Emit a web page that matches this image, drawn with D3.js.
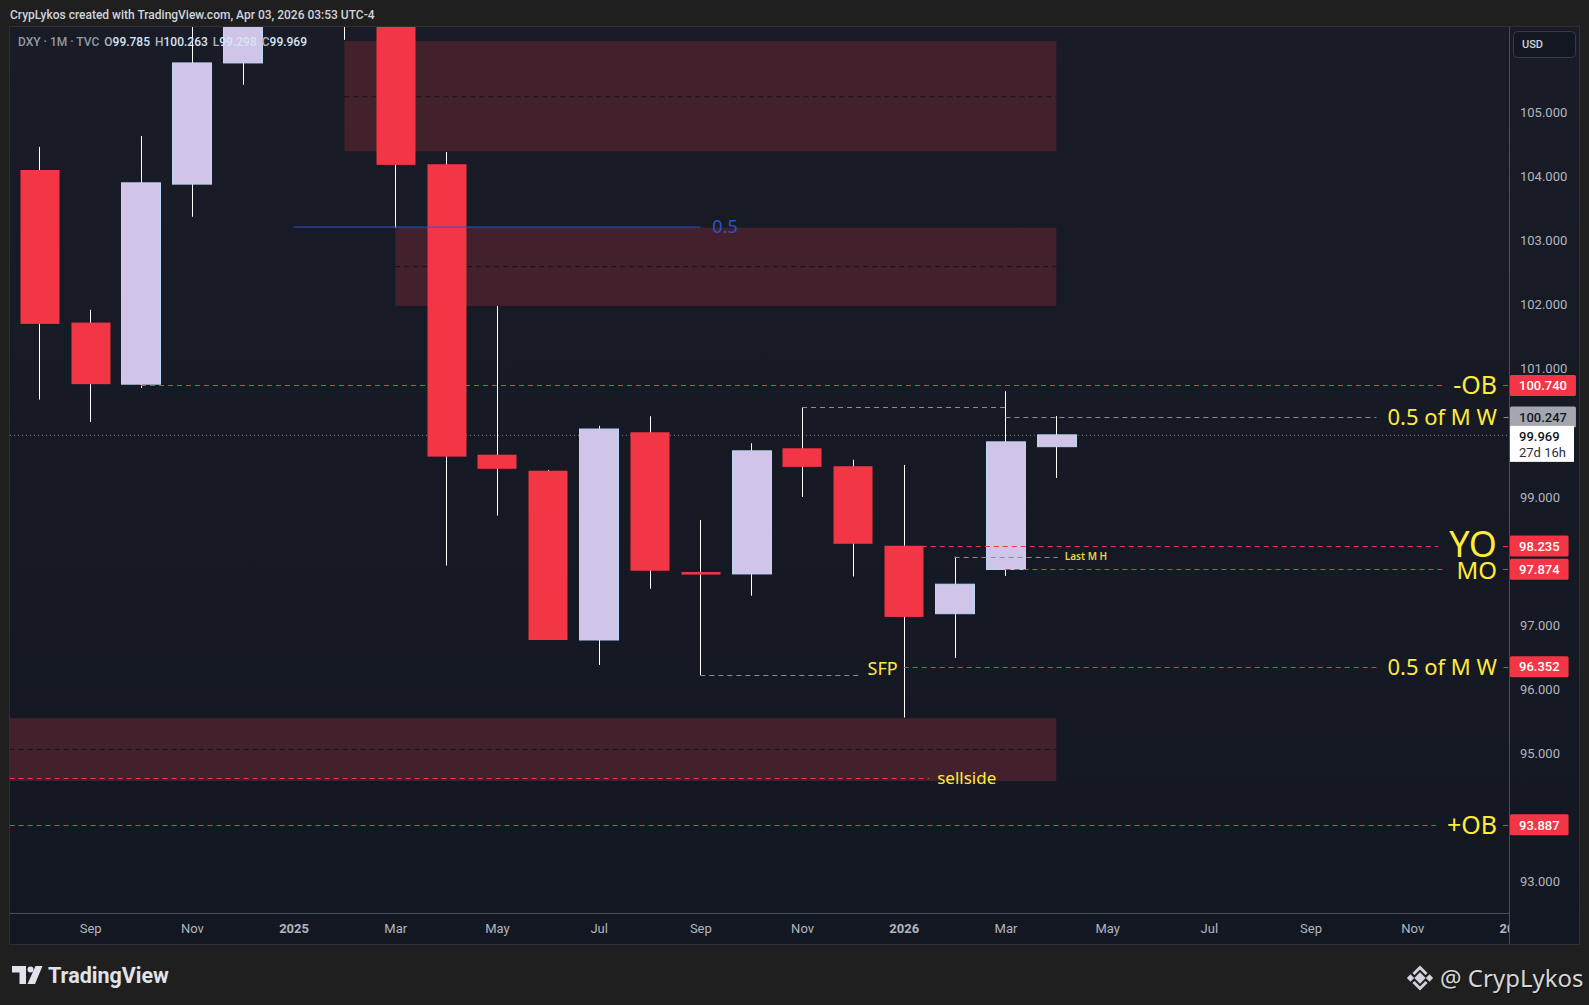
<!DOCTYPE html>
<html>
<head>
<meta charset="utf-8">
<script src="https://cdn.jsdelivr.net/npm/d3@7"></script>
<style>
  body { margin: 0; background: #1f1f1f; }
  svg { display: block; }
</style>
</head>
<body>
<div id="chart"></div>
<script>
// ── Data (DXY monthly) ──────────────────────────────────────
const months = ['2024-08','2024-09','2024-10','2024-11','2024-12','2025-01','2025-02',
  '2025-03','2025-04','2025-05','2025-06','2025-07','2025-08','2025-09','2025-10',
  '2025-11','2025-12','2026-01','2026-02','2026-03','2026-04'];
const openP  = [104.10,101.72,100.76,103.88,105.77,108.49,108.37,107.61,104.19,99.66,99.41,
  96.77,100.01,97.83,97.80,99.76,99.48,98.24,97.18,97.87,99.785];
const highP  = [104.46,101.92,104.63,107.07,108.54,110.18,109.88,107.70,104.38,101.98,99.42,
  100.11,100.26,98.64,99.84,100.40,99.58,99.50,98.07,100.65,100.263];
const lowP   = [100.52,100.17,100.70,103.37,105.43,107.48,106.13,103.20,97.93,98.71,96.77,
  96.38,97.57,96.22,97.46,99.00,97.76,95.56,96.49,97.77,99.298];
const closeP = [101.70,100.76,103.90,105.77,108.49,108.37,107.61,104.18,99.63,99.44,96.77,
  100.06,97.85,97.79,99.72,99.47,98.27,97.13,97.64,99.86,99.969];

// supply / demand zones (month index from..to, prices)
const zoneFrom   = [6, 7, -2];
const zoneTo     = [20, 20, 20];
const zoneTop    = [106.11, 103.20, 95.55];
const zoneBottom = [104.39, 101.98, 94.57];
const zoneMid    = [105.25, 102.60, 95.07];

// labelled horizontal levels running to the price scale
const levelPrice = [100.740, 100.247, 98.235, 97.874, 96.352, 93.887];
const levelFrom  = [2, 19, 17, 19, 17, -2];
const levelText  = ['-OB', '0.5 of M W', 'YO', 'MO', '0.5 of M W', '+OB'];
const levelGrey  = [false, true, false, false, false, false];

// short annotations: [fromIdx, toIdx, price, label]
const prevHigh = [15, 19, 100.40, ''];
const sfpLine  = [13, 16.13, 96.22, 'SFP'];
const lastMH   = [18, 20.03, 98.07, 'Last M H'];
const sellside = [-2, 17.5, 94.62, 'sellside'];
const fibHalf  = [5, 13, 103.21, '0.5'];

const lastPrice = 99.969;
const countdown = '27d 16h';

const yTicks = [93, 94, 95, 96, 97, 98, 99, 100, 101, 102, 103, 104, 105];
const timeIdx = [1, 3, 5, 7, 9, 11, 13, 15, 17, 19, 21, 23, 25, 27, 29];
const timeLabels = ['Sep','Nov','2025','Mar','May','Jul','Sep','Nov','2026','Mar','May','Jul','Sep','Nov','2027'];

// ── Layout ──────────────────────────────────────────────────
const W = 1589, H = 1005;
const plot = { left: 10, right: 1509, top: 27, bottom: 913 };
const RED = '#f23645', LAV = '#d1c4e9', YEL = '#ffeb3b';
const UI = 'Roboto, "Noto Sans", sans-serif';
const ANN = '"Noto Sans", sans-serif';

const x = d3.scaleLinear().domain([0, 20]).range([39.3, 1056.3]);
const y = d3.scaleLinear().domain([93, 105]).range([881.7, 112.3]);
const bodyW = (x(1) - x(0)) * 0.77;

const svg = d3.select('#chart').append('svg')
  .attr('width', W).attr('height', H);

const defs = svg.append('defs');
const grad = defs.append('linearGradient').attr('id', 'bg')
  .attr('x1', 0).attr('y1', 0).attr('x2', 0).attr('y2', 1);
grad.append('stop').attr('offset', 0).attr('stop-color', '#191c27');
grad.append('stop').attr('offset', 1).attr('stop-color', '#131722');
defs.append('clipPath').attr('id', 'plotClip').append('rect')
  .attr('x', plot.left).attr('y', plot.top)
  .attr('width', plot.right - plot.left).attr('height', plot.bottom - plot.top);
defs.append('clipPath').attr('id', 'timeClip').append('rect')
  .attr('x', plot.left).attr('y', plot.bottom)
  .attr('width', plot.right - plot.left).attr('height', 32);

svg.append('rect').attr('width', W).attr('height', H).attr('fill', '#1f1f1f');

// ── Header ──────────────────────────────────────────────────
svg.append('text')
  .attr('x', 10).attr('y', 15).attr('dy', '0.35em')
  .attr('fill', '#d1d4dc').attr('font-size', '12px').attr('font-weight', 500)
  .attr('font-family', UI)
  .text('CrypLykos created with TradingView.com, Apr 03, 2026 03:53 UTC-4');

// chart frame
svg.append('rect')
  .attr('x', 9.5).attr('y', 26.5).attr('width', 1570).attr('height', 918)
  .attr('fill', 'url(#bg)').attr('stroke', '#2e3039');

const g = svg.append('g').attr('clip-path', 'url(#plotClip)');

// ── Zones ───────────────────────────────────────────────────
zoneTop.forEach((t, i) => {
  g.append('rect')
    .attr('x', x(zoneFrom[i])).attr('y', y(t))
    .attr('width', x(zoneTo[i]) - x(zoneFrom[i]))
    .attr('height', y(zoneBottom[i]) - y(t))
    .attr('fill', '#42212c');
  g.append('line')
    .attr('x1', x(zoneFrom[i])).attr('x2', x(zoneTo[i]))
    .attr('y1', y(zoneMid[i]) + 0.5).attr('y2', y(zoneMid[i]) + 0.5)
    .attr('stroke', '#15111a').attr('stroke-dasharray', '5,4');
});

// current price dotted line
g.append('line')
  .attr('x1', plot.left).attr('x2', plot.right)
  .attr('y1', y(lastPrice) + 0.5).attr('y2', y(lastPrice) + 0.5)
  .attr('stroke', '#7b7f8a').attr('stroke-dasharray', '1,3');

// ── Candles ─────────────────────────────────────────────────
const candles = months.map((m, i) => ({
  i, o: openP[i], h: highP[i], l: lowP[i], c: closeP[i]
}));

g.selectAll('.wick').data(candles).join('line')
  .attr('class', 'wick')
  .attr('x1', d => Math.round(x(d.i)) + 0.5).attr('x2', d => Math.round(x(d.i)) + 0.5)
  .attr('y1', d => y(d.h)).attr('y2', d => y(d.l))
  .attr('stroke', '#ffffff').attr('stroke-width', 1);

g.selectAll('.body').data(candles).join('rect')
  .attr('class', 'body')
  .attr('x', d => Math.round(x(d.i) - bodyW / 2) + 0.5)
  .attr('y', d => y(Math.max(d.o, d.c)))
  .attr('width', Math.round(bodyW))
  .attr('height', d => Math.max(2, Math.abs(y(d.o) - y(d.c))))
  .attr('fill', d => d.c >= d.o ? LAV : RED)
  .attr('stroke', d => d.c >= d.o ? '#bcd7f5' : 'none')
  .attr('stroke-width', 1);

// ── Lines & annotations ─────────────────────────────────────
function hline(x1, x2, p, color) {
  g.append('line')
    .attr('x1', x1).attr('x2', x2)
    .attr('y1', Math.round(y(p)) + 0.5).attr('y2', Math.round(y(p)) + 0.5)
    .attr('stroke', color).attr('stroke-width', 1)
    .attr('stroke-dasharray', '5,4');
}

// Fib 0.5
g.append('line')
  .attr('x1', x(fibHalf[0])).attr('x2', x(fibHalf[1]))
  .attr('y1', y(fibHalf[2])).attr('y2', y(fibHalf[2]))
  .attr('stroke', '#2b55d6').attr('stroke-width', 1);
g.append('text')
  .attr('x', x(fibHalf[1]) + 12).attr('y', y(fibHalf[2])).attr('dy', '0.35em')
  .attr('fill', '#2f52c8').attr('font-size', '18px').attr('font-family', ANN)
  .text(fibHalf[3]);

// previous monthly high
hline(x(prevHigh[0]), x(prevHigh[1]), prevHigh[2], '#8a8d96');

// SFP
hline(x(sfpLine[0]), x(sfpLine[1]), sfpLine[2], '#8a8d96');
g.append('text')
  .attr('x', x(sfpLine[1]) + 8).attr('y', y(sfpLine[2]))
  .attr('fill', YEL).attr('font-size', '18px').attr('font-family', ANN)
  .text(sfpLine[3]);

// Last M H
hline(x(lastMH[0]), x(lastMH[1]), lastMH[2], '#8a8d96');
g.append('text')
  .attr('x', x(lastMH[1]) + 7).attr('y', y(lastMH[2])).attr('dy', '0.35em')
  .attr('fill', '#e6d44a').attr('font-size', '10px').attr('font-weight', 600)
  .attr('font-family', ANN)
  .text(lastMH[3]);

// sellside
hline(x(sellside[0]), x(sellside[1]), sellside[2], RED);
g.append('text')
  .attr('x', x(sellside[1]) + 8).attr('y', y(sellside[2])).attr('dy', '0.35em')
  .attr('fill', YEL).attr('font-size', '17px').attr('font-family', ANN)
  .text(sellside[3]);

// labelled levels on the right
const levelSize = { '-OB': 25, '0.5 of M W': 22, 'YO': 36, 'MO': 24, '+OB': 25 };
const levelShift = { 'YO': -2, 'MO': 1 };
levelPrice.forEach((p, i) => {
  const t = g.append('text')
    .attr('x', 1497).attr('y', y(p) + (levelShift[levelText[i]] || 0)).attr('dy', '0.36em')
    .attr('text-anchor', 'end')
    .attr('fill', YEL).attr('font-size', levelSize[levelText[i]] + 'px')
    .attr('font-family', ANN)
    .text(levelText[i]);
  const bb = t.node().getBBox();
  const col = levelGrey[i] ? '#8a8d96' : RED;
  hline(x(levelFrom[i]), bb.x - 11, p, col);
  hline(bb.x + bb.width + 6, plot.right, p, col);
});

// ── Price axis ──────────────────────────────────────────────
svg.append('line')
  .attr('x1', plot.right + 0.5).attr('x2', plot.right + 0.5)
  .attr('y1', plot.top).attr('y2', 944)
  .attr('stroke', '#4a4d57');

// tick labels that sit under a price tag are hidden, as on the price scale
const tagPrices = levelPrice.concat([lastPrice]);
const shownTicks = yTicks.filter(v => tagPrices.every(p => Math.abs(y(v) - y(p)) > 12));

const yAxis = svg.append('g')
  .attr('transform', `translate(${plot.right},0)`)
  .call(d3.axisRight(y).tickValues(shownTicks).tickFormat(d3.format('.3f'))
    .tickSize(0).tickPadding(11));
yAxis.select('.domain').remove();
yAxis.selectAll('text')
  .attr('fill', '#b2b5be').attr('font-size', '13px').attr('font-family', UI);

// USD box
svg.append('rect')
  .attr('x', 1513.5).attr('y', 31.5).attr('width', 62).attr('height', 26).attr('rx', 4)
  .attr('fill', '#131722').attr('stroke', '#363a45');
svg.append('text')
  .attr('x', 1522).attr('y', 44.5).attr('dy', '0.35em')
  .attr('fill', '#d1d4dc').attr('font-size', '11px').attr('font-weight', 500)
  .attr('font-family', UI).text('USD');

// tags
function tag(p, fill, color) {
  const yc = y(p);
  const t = svg.append('text')
    .attr('x', plot.right + 10).attr('y', yc).attr('dy', '0.36em')
    .attr('fill', color).attr('font-size', '13px').attr('font-weight', 500)
    .attr('font-family', UI).text(p.toFixed(3));
  const w = t.node().getComputedTextLength();
  svg.insert('rect', () => t.node())
    .attr('x', plot.right + 1).attr('y', yc - 10.5)
    .attr('width', w + 18).attr('height', 21).attr('rx', 1.5)
    .attr('fill', fill);
}
levelPrice.forEach((p, i) => {
  if (levelGrey[i]) tag(p, '#a3a6af', '#131722');
  else tag(p, RED, '#ffffff');
});

// last price + countdown
const lp = y(lastPrice);
svg.append('rect')
  .attr('x', plot.right + 1).attr('y', lp - 9)
  .attr('width', 64).attr('height', 36)
  .attr('fill', '#ffffff');
svg.append('text')
  .attr('x', plot.right + 10).attr('y', lp + 1).attr('dy', '0.36em')
  .attr('fill', '#131722').attr('font-size', '13px').attr('font-weight', 500)
  .attr('font-family', UI).text(lastPrice.toFixed(3));
svg.append('text')
  .attr('x', plot.right + 10).attr('y', lp + 17).attr('dy', '0.36em')
  .attr('fill', '#2a2e39').attr('font-size', '13px')
  .attr('font-family', UI).text(countdown);

// ── Time axis ───────────────────────────────────────────────
svg.append('line')
  .attr('x1', plot.left).attr('x2', plot.right)
  .attr('y1', plot.bottom + 0.5).attr('y2', plot.bottom + 0.5)
  .attr('stroke', '#4a4d57');

const xAxis = svg.append('g')
  .attr('clip-path', 'url(#timeClip)')
  .append('g')
  .attr('transform', `translate(0,${plot.bottom})`)
  .call(d3.axisBottom(x).tickValues(timeIdx)
    .tickFormat((d, i) => timeLabels[i]).tickSize(0));
xAxis.select('.domain').remove();
xAxis.selectAll('text')
  .attr('y', 15).attr('dy', '0.35em')
  .attr('fill', '#b2b5be').attr('font-size', '13px').attr('font-family', UI)
  .attr('font-weight', d => /^\d{4}$/.test(timeLabels[timeIdx.indexOf(d)]) ? 700 : 400);

// ── Legend line ─────────────────────────────────────────────
const lg = svg.append('text')
  .attr('x', 18).attr('y', 42).attr('dy', '0.35em')
  .attr('font-size', '12px').attr('font-family', UI).attr('font-weight', 500);
lg.append('tspan').attr('fill', '#9598a1').text('DXY · 1M · TVC');
[['O', openP], ['H', highP], ['L', lowP], ['C', closeP]].forEach(([k, arr]) => {
  lg.append('tspan').attr('dx', 5).attr('fill', '#b2b5be').text(k);
  lg.append('tspan').attr('fill', '#d6e4f5').text(arr[arr.length - 1].toFixed(3));
});

// ── Footer ──────────────────────────────────────────────────
const logo = svg.append('g').attr('fill', '#e0e3eb');
logo.append('path').attr('d', 'M12,966 H26 V984 H19.5 V972.5 H12 Z');
logo.append('circle').attr('cx', 30.5).attr('cy', 969.5).attr('r', 3);
logo.append('path').attr('d', 'M35.5,966 H42.5 L35,984 H27.5 Z');
svg.append('text')
  .attr('x', 48).attr('y', 975).attr('dy', '0.35em')
  .attr('fill', '#e0e3eb').attr('font-size', '21.5px').attr('font-weight', 700)
  .attr('font-family', UI).text('TradingView');

const bn = svg.append('g').attr('fill', '#d1d4dc');
[[1420, 978, 4], [1410.5, 978, 2.6], [1429.5, 978, 2.6]].forEach(([cx, cy, s]) => {
  bn.append('rect').attr('x', cx - s).attr('y', cy - s)
    .attr('width', 2 * s).attr('height', 2 * s)
    .attr('transform', `rotate(45,${cx},${cy})`);
});
bn.append('path').attr('fill', 'none').attr('stroke', '#d1d4dc').attr('stroke-width', 3)
  .attr('d', 'M1413.5,974 L1420,967.5 L1426.5,974 M1413.5,982 L1420,988.5 L1426.5,982');

svg.append('text')
  .attr('x', 1441).attr('y', 980).attr('dy', '0.35em')
  .attr('fill', '#000').attr('opacity', 0.6)
  .attr('font-size', '24px').attr('font-family', ANN).text('@ CrypLykos');
svg.append('text')
  .attr('x', 1440).attr('y', 979).attr('dy', '0.35em')
  .attr('fill', '#d6d6d6')
  .attr('font-size', '24px').attr('font-family', ANN).text('@ CrypLykos');
</script>
</body>
</html>
